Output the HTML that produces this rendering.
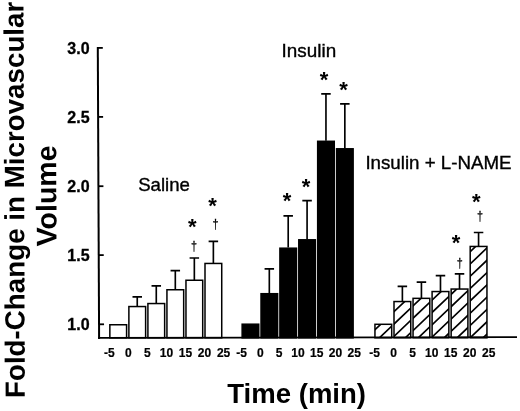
<!DOCTYPE html>
<html><head><meta charset="utf-8"><title>Fold-Change in Microvascular Volume</title>
<style>
html,body{margin:0;padding:0;background:#fff;}
body{width:520px;height:411px;overflow:hidden;}
svg{display:block;}
text{font-family:"Liberation Sans",Arial,sans-serif;fill:#000;}
.yt{font-size:16px;font-weight:bold;text-anchor:end;stroke:#000;stroke-width:0.3px;}
.xt{font-size:12px;font-weight:bold;text-anchor:middle;stroke:#000;stroke-width:0.2px;}
.gl{font-size:18px;stroke:#000;stroke-width:0.35px;}
.st{font-size:22px;font-weight:bold;text-anchor:middle;}
.dg{font-size:13.2px;text-anchor:middle;stroke:#000;stroke-width:0.25px;}
.ax{font-size:27px;font-weight:bold;}
.ax2{font-size:27.75px;font-weight:bold;}
.ax3{font-size:28.5px;font-weight:bold;}
</style></head><body>
<svg width="520" height="411" viewBox="0 0 520 411">
<rect width="520" height="411" fill="#fff"/>
<rect x="109.85" y="324.75" width="16.73" height="13.05" fill="#fff" stroke="#000" stroke-width="1.5"/>
<path d="M137.25 306.40V296.90M132.50 296.90H142.00" stroke="#000" stroke-width="1.65" fill="none"/>
<rect x="128.88" y="306.55" width="16.73" height="31.25" fill="#fff" stroke="#000" stroke-width="1.5"/>
<path d="M156.28 303.40V285.90M151.53 285.90H161.03" stroke="#000" stroke-width="1.65" fill="none"/>
<rect x="147.91" y="303.55" width="16.73" height="34.25" fill="#fff" stroke="#000" stroke-width="1.5"/>
<path d="M175.31 289.60V270.60M170.56 270.60H180.06" stroke="#000" stroke-width="1.65" fill="none"/>
<rect x="166.94" y="289.75" width="16.73" height="48.05" fill="#fff" stroke="#000" stroke-width="1.5"/>
<path d="M194.34 280.10V258.00M189.59 258.00H199.09" stroke="#000" stroke-width="1.65" fill="none"/>
<rect x="185.97" y="280.25" width="16.73" height="57.55" fill="#fff" stroke="#000" stroke-width="1.5"/>
<path d="M213.37 263.30V241.30M208.62 241.30H218.12" stroke="#000" stroke-width="1.65" fill="none"/>
<rect x="205.00" y="263.45" width="16.73" height="74.35" fill="#fff" stroke="#000" stroke-width="1.5"/>
<rect x="242.15" y="324.20" width="16.58" height="13.60" fill="#000" stroke="#000" stroke-width="1.5"/>
<path d="M269.32 293.10V268.80M264.57 268.80H274.07" stroke="#000" stroke-width="1.65" fill="none"/>
<rect x="261.03" y="293.70" width="16.58" height="44.10" fill="#000" stroke="#000" stroke-width="1.5"/>
<path d="M288.20 247.60V215.90M283.45 215.90H292.95" stroke="#000" stroke-width="1.65" fill="none"/>
<rect x="279.91" y="248.20" width="16.58" height="89.60" fill="#000" stroke="#000" stroke-width="1.5"/>
<path d="M307.08 239.20V200.60M302.33 200.60H311.83" stroke="#000" stroke-width="1.65" fill="none"/>
<rect x="298.79" y="239.80" width="16.58" height="98.00" fill="#000" stroke="#000" stroke-width="1.5"/>
<path d="M325.96 140.70V93.80M321.21 93.80H330.71" stroke="#000" stroke-width="1.65" fill="none"/>
<rect x="317.67" y="141.30" width="16.58" height="196.50" fill="#000" stroke="#000" stroke-width="1.5"/>
<path d="M344.84 148.20V103.90M340.09 103.90H349.59" stroke="#000" stroke-width="1.65" fill="none"/>
<rect x="336.55" y="148.80" width="16.58" height="189.00" fill="#000" stroke="#000" stroke-width="1.5"/>
<rect x="374.95" y="324.30" width="16.75" height="13.50" fill="#fff"/><clipPath id="c3742"><rect x="374.95" y="324.30" width="16.75" height="13.50"/></clipPath><path clip-path="url(#c3742)" d="M372.95 319.40L393.70 299.69M372.95 331.70L393.70 311.99M372.95 344.00L393.70 324.29M372.95 356.30L393.70 336.59" stroke="#000" stroke-width="1.7" fill="none"/><rect x="374.95" y="324.30" width="16.75" height="13.50" fill="none" stroke="#000" stroke-width="1.5"/>
<path d="M402.38 301.40V286.40M397.62 286.40H407.12" stroke="#000" stroke-width="1.65" fill="none"/>
<rect x="394.00" y="301.55" width="16.75" height="36.25" fill="#fff"/><clipPath id="c3932"><rect x="394.00" y="301.55" width="16.75" height="36.25"/></clipPath><path clip-path="url(#c3932)" d="M392.00 301.30L412.75 281.59M392.00 313.60L412.75 293.89M392.00 325.90L412.75 306.19M392.00 338.20L412.75 318.49M392.00 350.50L412.75 330.79M392.00 362.80L412.75 343.09" stroke="#000" stroke-width="1.7" fill="none"/><rect x="394.00" y="301.55" width="16.75" height="36.25" fill="none" stroke="#000" stroke-width="1.5"/>
<path d="M421.43 298.20V282.10M416.68 282.10H426.18" stroke="#000" stroke-width="1.65" fill="none"/>
<rect x="413.05" y="298.35" width="16.75" height="39.45" fill="#fff"/><clipPath id="c4123"><rect x="413.05" y="298.35" width="16.75" height="39.45"/></clipPath><path clip-path="url(#c4123)" d="M411.05 295.50L431.80 275.79M411.05 307.80L431.80 288.09M411.05 320.10L431.80 300.39M411.05 332.40L431.80 312.69M411.05 344.70L431.80 324.99M411.05 357.00L431.80 337.29" stroke="#000" stroke-width="1.7" fill="none"/><rect x="413.05" y="298.35" width="16.75" height="39.45" fill="none" stroke="#000" stroke-width="1.5"/>
<path d="M440.48 291.40V275.60M435.73 275.60H445.23" stroke="#000" stroke-width="1.65" fill="none"/>
<rect x="432.10" y="291.55" width="16.75" height="46.25" fill="#fff"/><clipPath id="c4313"><rect x="432.10" y="291.55" width="16.75" height="46.25"/></clipPath><path clip-path="url(#c4313)" d="M430.10 289.71L450.85 269.99M430.10 302.00L450.85 282.29M430.10 314.31L450.85 294.59M430.10 326.61L450.85 306.89M430.10 338.90L450.85 319.19M430.10 351.21L450.85 331.49M430.10 363.50L450.85 343.79" stroke="#000" stroke-width="1.7" fill="none"/><rect x="432.10" y="291.55" width="16.75" height="46.25" fill="none" stroke="#000" stroke-width="1.5"/>
<path d="M459.52 288.90V273.90M454.77 273.90H464.27" stroke="#000" stroke-width="1.65" fill="none"/>
<rect x="451.15" y="289.05" width="16.75" height="48.75" fill="#fff"/><clipPath id="c4504"><rect x="451.15" y="289.05" width="16.75" height="48.75"/></clipPath><path clip-path="url(#c4504)" d="M449.15 283.91L469.90 264.20M449.15 296.21L469.90 276.50M449.15 308.51L469.90 288.80M449.15 320.81L469.90 301.10M449.15 333.11L469.90 313.40M449.15 345.41L469.90 325.70M449.15 357.71L469.90 338.00" stroke="#000" stroke-width="1.7" fill="none"/><rect x="451.15" y="289.05" width="16.75" height="48.75" fill="none" stroke="#000" stroke-width="1.5"/>
<path d="M478.57 246.30V232.50M473.82 232.50H483.32" stroke="#000" stroke-width="1.65" fill="none"/>
<rect x="470.20" y="246.45" width="16.75" height="91.35" fill="#fff"/><clipPath id="c4694"><rect x="470.20" y="246.45" width="16.75" height="91.35"/></clipPath><path clip-path="url(#c4694)" d="M468.20 241.21L488.95 221.50M468.20 253.51L488.95 233.80M468.20 265.81L488.95 246.10M468.20 278.11L488.95 258.40M468.20 290.41L488.95 270.70M468.20 302.71L488.95 283.00M468.20 315.01L488.95 295.30M468.20 327.31L488.95 307.60M468.20 339.61L488.95 319.90M468.20 351.91L488.95 332.20M468.20 364.21L488.95 344.50" stroke="#000" stroke-width="1.7" fill="none"/><rect x="470.20" y="246.45" width="16.75" height="91.35" fill="none" stroke="#000" stroke-width="1.5"/>
<path d="M97.80 46.9L99.10 338.9" stroke="#000" stroke-width="2" fill="none"/>
<path d="M98.10 337.85L517 337.15" stroke="#000" stroke-width="1.9" fill="none"/>
<path d="M97.80 47.90H102.80" stroke="#000" stroke-width="1.8"/>
<text x="89.6" y="53.80" class="yt">3.0</text>
<path d="M98.11 116.90H103.11" stroke="#000" stroke-width="1.8"/>
<text x="89.6" y="122.80" class="yt">2.5</text>
<path d="M98.42 186.20H103.42" stroke="#000" stroke-width="1.8"/>
<text x="89.6" y="192.10" class="yt">2.0</text>
<path d="M98.73 255.10H103.73" stroke="#000" stroke-width="1.8"/>
<text x="89.6" y="261.00" class="yt">1.5</text>
<path d="M99.04 324.30H104.04" stroke="#000" stroke-width="1.8"/>
<text x="89.6" y="330.20" class="yt">1.0</text>
<text x="109.40" y="356.6" class="xt">-5</text>
<text x="128.43" y="356.6" class="xt">0</text>
<text x="147.46" y="356.6" class="xt">5</text>
<text x="166.49" y="356.6" class="xt">10</text>
<text x="185.52" y="356.6" class="xt">15</text>
<text x="204.55" y="356.6" class="xt">20</text>
<text x="223.58" y="356.6" class="xt">25</text>
<text x="241.70" y="356.6" class="xt">-5</text>
<text x="260.45" y="356.6" class="xt">0</text>
<text x="279.20" y="356.6" class="xt">5</text>
<text x="297.95" y="356.6" class="xt">10</text>
<text x="316.70" y="356.6" class="xt">15</text>
<text x="335.45" y="356.6" class="xt">20</text>
<text x="354.20" y="356.6" class="xt">25</text>
<text x="374.50" y="356.6" class="xt">-5</text>
<text x="393.55" y="356.6" class="xt">0</text>
<text x="412.60" y="356.6" class="xt">5</text>
<text x="431.65" y="356.6" class="xt">10</text>
<text x="450.70" y="356.6" class="xt">15</text>
<text x="469.75" y="356.6" class="xt">20</text>
<text x="488.80" y="356.6" class="xt">25</text>
<text transform="translate(138.2,190.9) scale(1.035,1)" class="gl">Saline</text>
<text transform="translate(281.6,56.9) scale(1.05,1)" class="gl">Insulin</text>
<text transform="translate(365.4,168.9) scale(1.04,1)" class="gl">Insulin + L-NAME</text>
<text x="192.20" y="234.24" class="st">*</text>
<text x="212.55" y="212.59" class="st">*</text>
<text x="287.00" y="207.94" class="st">*</text>
<text x="306.00" y="194.04" class="st">*</text>
<text x="324.00" y="86.94" class="st">*</text>
<text x="343.60" y="97.24" class="st">*</text>
<text x="456.10" y="249.64" class="st">*</text>
<text x="476.20" y="208.74" class="st">*</text>
<text transform="translate(194.00,250.27) scale(0.82,1)" class="dg">&#8224;</text>
<text transform="translate(215.40,227.97) scale(0.82,1)" class="dg">&#8224;</text>
<text transform="translate(459.80,267.37) scale(0.82,1)" class="dg">&#8224;</text>
<text transform="translate(480.10,220.37) scale(0.82,1)" class="dg">&#8224;</text>
<text transform="translate(227.3,402.7) scale(1.02,1)" class="ax">Time (min)</text>
<text transform="translate(24.85,398.0) rotate(-90.2)" x="0" y="0" class="ax2">Fold-Change in Microvascular</text>
<text transform="translate(56.5,246.3) rotate(-90.2)" x="0" y="0" class="ax3">Volume</text>
</svg>
</body></html>
